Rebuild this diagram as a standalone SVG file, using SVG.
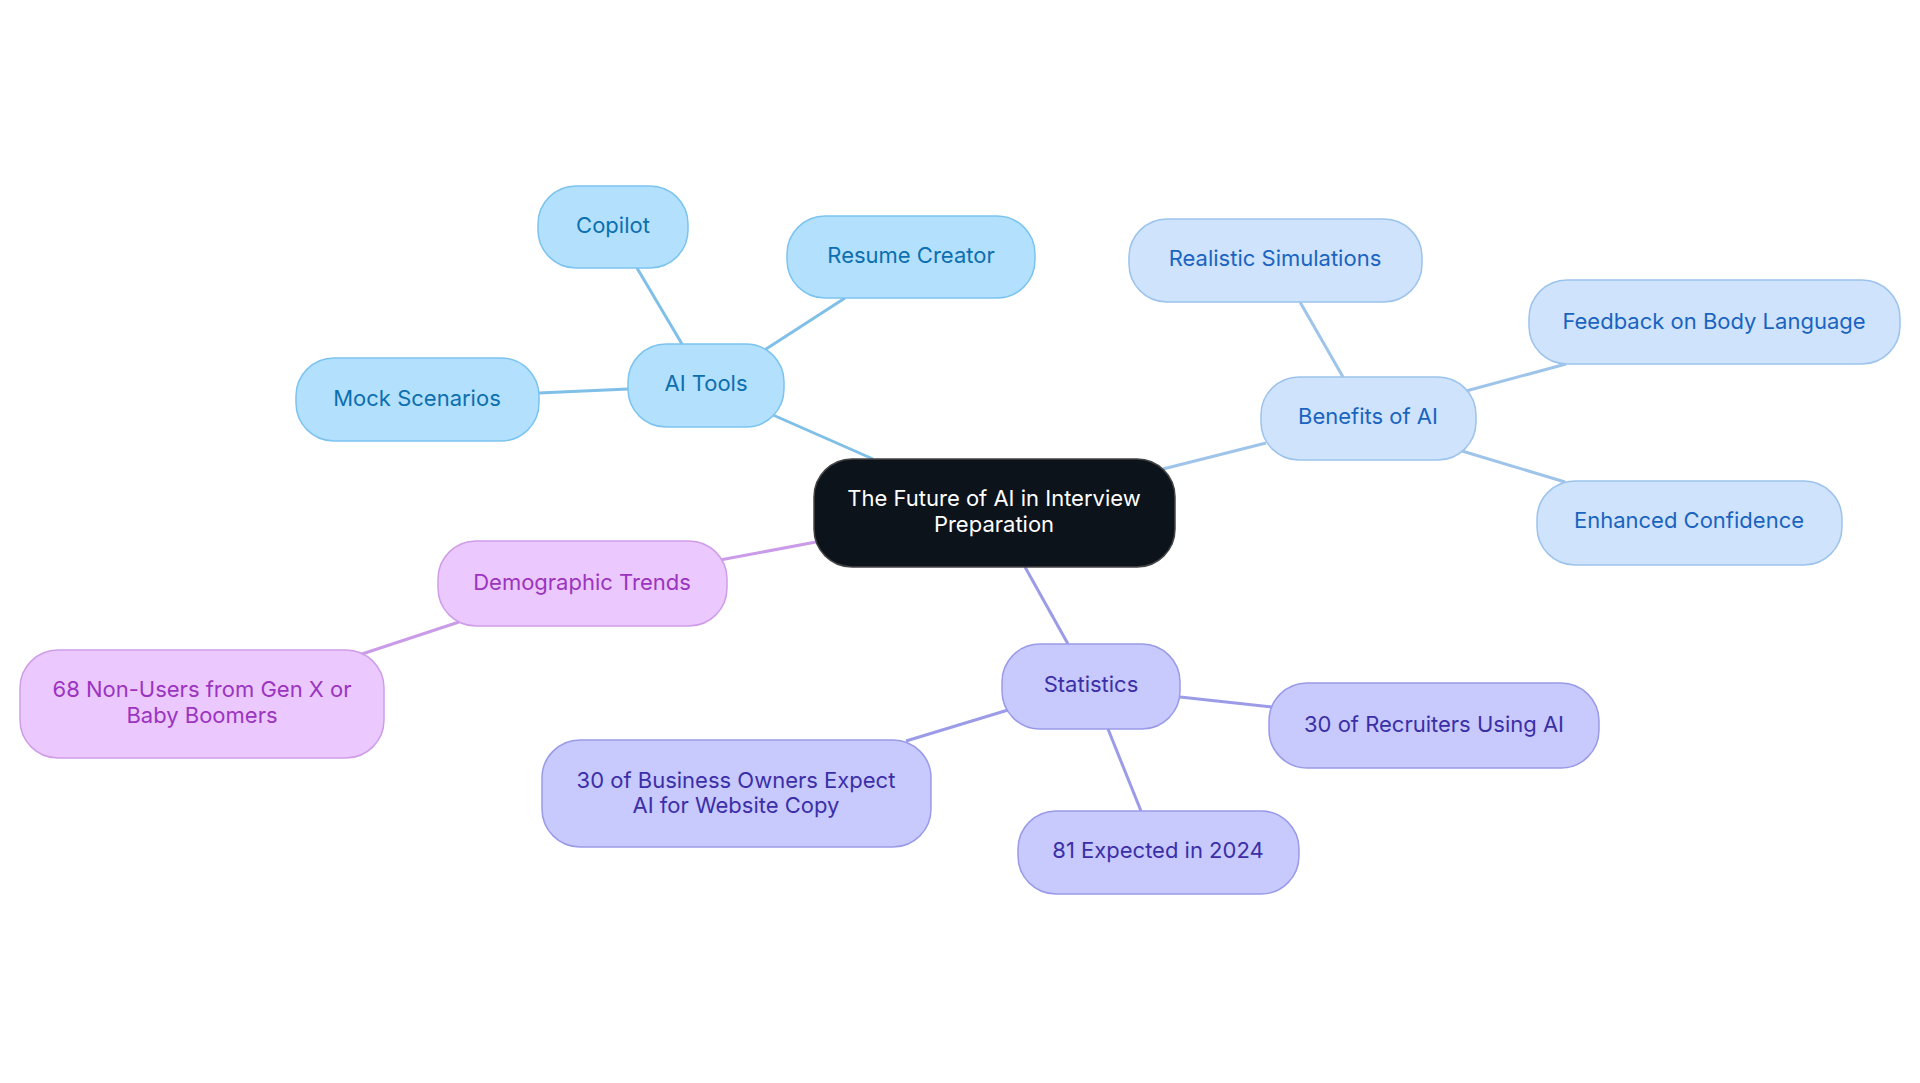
<svg xmlns="http://www.w3.org/2000/svg" width="1920" height="1083" viewBox="0 0 1920 1083">
<style>
text{font-family:Inter,"Noto Sans",sans-serif;font-size:22px;text-anchor:middle;dominant-baseline:central}
.b rect{fill:#b3e0fd;stroke:#7cc4ef;stroke-width:1.5}.b text{fill:#0b6fb0}
.l rect{fill:#cfe3fc;stroke:#9cc3ec;stroke-width:1.5}.l text{fill:#1a64c0}
.p rect{fill:#c8c9fd;stroke:#9a9be8;stroke-width:1.5}.p text{fill:#3b2fa8}
.k rect{fill:#ebc8fd;stroke:#cf9de8;stroke-width:1.5}.k text{fill:#9b34c0}
#edges line{stroke-width:3}
.eb{stroke:#7fbfe8}.el{stroke:#9ec4ea}.ep{stroke:#9b9be8}.ek{stroke:#c99be8}
</style>
<rect width="1920" height="1083" fill="#fff"/>
<g id="edges">
<line class="eb" x1="682" y1="344" x2="637" y2="268"/>
<line class="eb" x1="763" y1="351" x2="845" y2="298"/>
<line class="eb" x1="628" y1="389" x2="539" y2="393"/>
<line class="eb" x1="773" y1="415" x2="873" y2="459"/>
<line class="el" x1="1163" y1="469" x2="1266" y2="443"/>
<line class="el" x1="1343" y1="377" x2="1300" y2="302"/>
<line class="el" x1="1466" y1="391" x2="1566" y2="364"/>
<line class="el" x1="1462" y1="451" x2="1565" y2="482"/>
<line class="ek" x1="816" y1="542" x2="720" y2="560"/>
<line class="ek" x1="459" y1="622" x2="362" y2="654"/>
<line class="ep" x1="1025" y1="567" x2="1068" y2="644"/>
<line class="ep" x1="1180" y1="697" x2="1273" y2="707"/>
<line class="ep" x1="1008" y1="710" x2="906" y2="741"/>
<line class="ep" x1="1108" y1="729" x2="1141" y2="811"/>
</g>
<g id="center"><rect x="814" y="459" width="361" height="108" rx="38" fill="#0c131b" stroke="#444" stroke-width="1.5"/><text x="994" y="498" fill="#fff">The Future of AI in Interview</text><text x="994" y="524" fill="#fff">Preparation</text></g>
<g id="copilot" class="b"><rect x="538" y="186" width="150" height="82" rx="38"/><text x="613" y="225">Copilot</text></g>
<g id="resume" class="b"><rect x="787" y="216" width="248" height="82" rx="38"/><text x="911" y="255">Resume Creator</text></g>
<g id="aitools" class="b"><rect x="628" y="344" width="156" height="83" rx="38"/><text x="706" y="383">AI Tools</text></g>
<g id="mock" class="b"><rect x="296" y="358" width="243" height="83" rx="38"/><text x="417" y="398">Mock Scenarios</text></g>
<g id="realistic" class="l"><rect x="1129" y="219" width="293" height="83" rx="38"/><text x="1275" y="258">Realistic Simulations</text></g>
<g id="feedback" class="l"><rect x="1529" y="280" width="371" height="84" rx="38"/><text x="1714" y="321">Feedback on Body Language</text></g>
<g id="benefits" class="l"><rect x="1261" y="377" width="215" height="83" rx="38"/><text x="1368" y="416">Benefits of AI</text></g>
<g id="enhanced" class="l"><rect x="1537" y="481" width="305" height="84" rx="38"/><text x="1689" y="520">Enhanced Confidence</text></g>
<g id="demo" class="k"><rect x="438" y="541" width="289" height="85" rx="38"/><text x="582" y="582">Demographic Trends</text></g>
<g id="nonusers" class="k"><rect x="20" y="650" width="364" height="108" rx="38"/><text x="202" y="689">68 Non-Users from Gen X or</text><text x="202" y="715">Baby Boomers</text></g>
<g id="stats" class="p"><rect x="1002" y="644" width="178" height="85" rx="38"/><text x="1091" y="684">Statistics</text></g>
<g id="recruiters" class="p"><rect x="1269" y="683" width="330" height="85" rx="38"/><text x="1434" y="724">30 of Recruiters Using AI</text></g>
<g id="business" class="p"><rect x="542" y="740" width="389" height="107" rx="38"/><text x="736" y="780">30 of Business Owners Expect</text><text x="736" y="805">AI for Website Copy</text></g>
<g id="expected" class="p"><rect x="1018" y="811" width="281" height="83" rx="38"/><text x="1158" y="850">81 Expected in 2024</text></g>
</svg>
